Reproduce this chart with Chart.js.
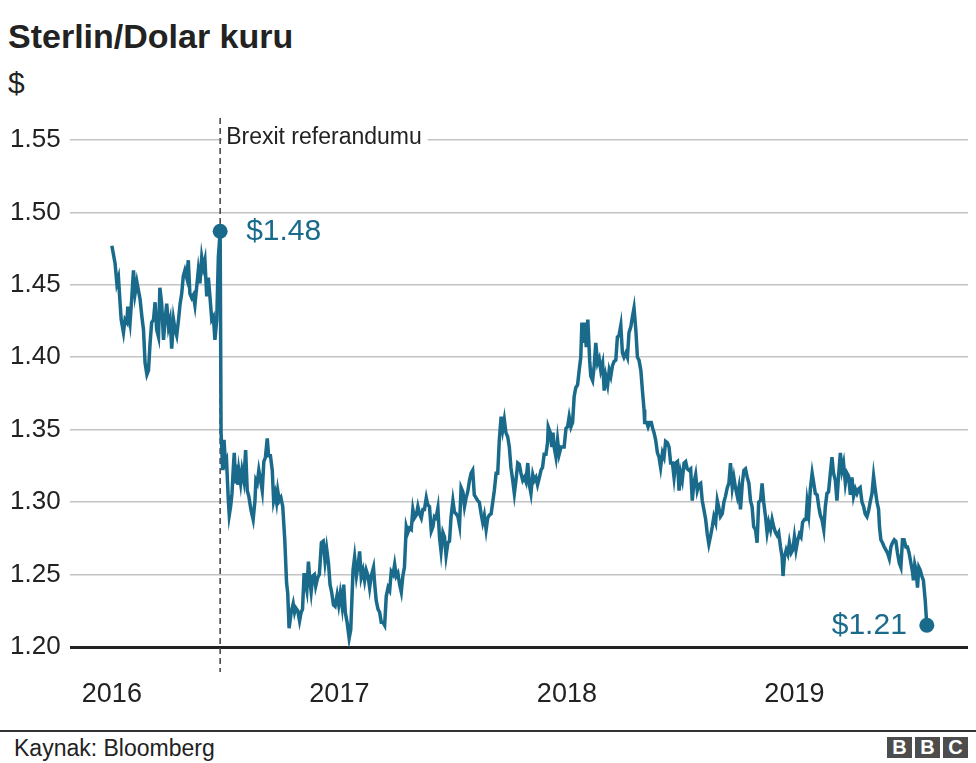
<!DOCTYPE html>
<html>
<head>
<meta charset="utf-8">
<script src="https://cdn.jsdelivr.net/npm/chart.js@4"></script>
<style>
  body { margin: 0; width: 976px; height: 763px; position: relative; overflow: hidden; background: #fff;
         font-family: 'Liberation Sans', Arial, sans-serif; color: #222; }
  #title { position: absolute; left: 8px; top: 19px; font-size: 34px; line-height: 1; font-weight: bold; }
  #unit { position: absolute; left: 8px; top: 68px; font-size: 30px; line-height: 1; }
  #wrap { position: absolute; left: 0; top: 100px; width: 976px; height: 620px; }
  #rule { position: absolute; left: 0; top: 730px; width: 976px; height: 2px; background: #333; }
  #source { position: absolute; left: 14px; top: 737px; font-size: 23px; line-height: 1; }
  #logo { position: absolute; left: 887px; top: 737px; display: flex; gap: 3px; }
  #logo span { width: 25px; height: 21px; background: #4d4d4d; color: #fff; font-weight: bold;
               font-size: 20px; line-height: 21px; text-align: center; }
</style>
</head>
<body>
<div id="title">Sterlin/Dolar kuru</div>
<div id="unit">$</div>
<div id="wrap"><canvas id="chart"></canvas></div>
<div id="rule"></div>
<div id="source">Kaynak: Bloomberg</div>
<div id="logo"><span>B</span><span>B</span><span>C</span></div>

<script>
// Tarihler (ondalik yil) ve GBP/USD kuru
const dates = [
  2016.000, 2016.014, 2016.022, 2016.029, 2016.035, 2016.041, 2016.051, 2016.058, 2016.066, 2016.070,
  2016.080, 2016.088, 2016.095, 2016.102, 2016.110, 2016.117, 2016.124, 2016.132, 2016.139, 2016.146,
  2016.154, 2016.161, 2016.168, 2016.175, 2016.183, 2016.190, 2016.197, 2016.205, 2016.211, 2016.219,
  2016.227, 2016.234, 2016.241, 2016.249, 2016.256, 2016.263, 2016.271, 2016.278, 2016.285, 2016.293,
  2016.300, 2016.307, 2016.314, 2016.321, 2016.329, 2016.336, 2016.343, 2016.351, 2016.358, 2016.365,
  2016.373, 2016.380, 2016.387, 2016.395, 2016.402, 2016.409, 2016.417, 2016.424, 2016.431, 2016.439,
  2016.446, 2016.453, 2016.461, 2016.468, 2016.476, 2016.480, 2016.487, 2016.493, 2016.499, 2016.504,
  2016.512, 2016.516, 2016.522, 2016.528, 2016.534, 2016.538, 2016.544, 2016.548, 2016.553, 2016.558,
  2016.566, 2016.572, 2016.580, 2016.588, 2016.595, 2016.602, 2016.611, 2016.621, 2016.629, 2016.633,
  2016.639, 2016.646, 2016.654, 2016.661, 2016.668, 2016.675, 2016.683, 2016.689, 2016.697, 2016.705,
  2016.711, 2016.718, 2016.724, 2016.729, 2016.736, 2016.743, 2016.751, 2016.760, 2016.768, 2016.773,
  2016.779, 2016.788, 2016.797, 2016.803, 2016.808, 2016.817, 2016.825, 2016.832, 2016.838, 2016.845,
  2016.851, 2016.857, 2016.864, 2016.870, 2016.876, 2016.883, 2016.890, 2016.896, 2016.905, 2016.912,
  2016.921, 2016.929, 2016.937, 2016.944, 2016.952, 2016.959, 2016.966, 2016.974, 2016.981, 2016.990,
  2016.997, 2017.004, 2017.012, 2017.019, 2017.026, 2017.034, 2017.043, 2017.050, 2017.060, 2017.067,
  2017.075, 2017.082, 2017.089, 2017.096, 2017.104, 2017.111, 2017.118, 2017.126, 2017.133, 2017.140,
  2017.150, 2017.155, 2017.162, 2017.170, 2017.177, 2017.184, 2017.192, 2017.199, 2017.206, 2017.214,
  2017.221, 2017.228, 2017.236, 2017.243, 2017.250, 2017.257, 2017.265, 2017.272, 2017.279, 2017.286,
  2017.294, 2017.301, 2017.308, 2017.316, 2017.323, 2017.330, 2017.338, 2017.345, 2017.352, 2017.360,
  2017.367, 2017.374, 2017.382, 2017.389, 2017.396, 2017.404, 2017.411, 2017.418, 2017.425, 2017.433,
  2017.440, 2017.447, 2017.455, 2017.462, 2017.469, 2017.477, 2017.484, 2017.491, 2017.499, 2017.506,
  2017.513, 2017.521, 2017.528, 2017.535, 2017.543, 2017.550, 2017.557, 2017.564, 2017.572, 2017.579,
  2017.586, 2017.593, 2017.601, 2017.608, 2017.615, 2017.623, 2017.630, 2017.637, 2017.645, 2017.652,
  2017.659, 2017.667, 2017.674, 2017.681, 2017.689, 2017.696, 2017.703, 2017.711, 2017.718, 2017.725,
  2017.732, 2017.740, 2017.747, 2017.754, 2017.762, 2017.769, 2017.776, 2017.784, 2017.791, 2017.798,
  2017.806, 2017.813, 2017.820, 2017.828, 2017.835, 2017.842, 2017.850, 2017.857, 2017.864, 2017.871,
  2017.879, 2017.886, 2017.893, 2017.900, 2017.908, 2017.915, 2017.918, 2017.927, 2017.934, 2017.939,
  2017.944, 2017.952, 2017.959, 2017.966, 2017.974, 2017.981, 2017.988, 2017.996, 2018.003, 2018.010,
  2018.018, 2018.025, 2018.032, 2018.039, 2018.047, 2018.054, 2018.061, 2018.066, 2018.073, 2018.079,
  2018.085, 2018.092, 2018.100, 2018.105, 2018.113, 2018.120, 2018.127, 2018.135, 2018.142, 2018.149,
  2018.157, 2018.164, 2018.171, 2018.179, 2018.186, 2018.193, 2018.200, 2018.207, 2018.215, 2018.222,
  2018.229, 2018.237, 2018.244, 2018.251, 2018.259, 2018.266, 2018.273, 2018.281, 2018.288, 2018.295,
  2018.303, 2018.310, 2018.317, 2018.325, 2018.332, 2018.339, 2018.342, 2018.351, 2018.357, 2018.364,
  2018.371, 2018.377, 2018.383, 2018.390, 2018.398, 2018.405, 2018.412, 2018.420, 2018.427, 2018.434,
  2018.442, 2018.449, 2018.456, 2018.464, 2018.471, 2018.478, 2018.486, 2018.493, 2018.500, 2018.507,
  2018.515, 2018.522, 2018.529, 2018.536, 2018.544, 2018.551, 2018.558, 2018.566, 2018.573, 2018.580,
  2018.588, 2018.595, 2018.602, 2018.610, 2018.617, 2018.624, 2018.632, 2018.639, 2018.646, 2018.654,
  2018.661, 2018.668, 2018.675, 2018.683, 2018.690, 2018.697, 2018.705, 2018.712, 2018.719, 2018.727,
  2018.734, 2018.741, 2018.749, 2018.756, 2018.763, 2018.771, 2018.778, 2018.785, 2018.793, 2018.800,
  2018.807, 2018.814, 2018.821, 2018.829, 2018.836, 2018.843, 2018.851, 2018.858, 2018.865, 2018.873,
  2018.880, 2018.887, 2018.895, 2018.902, 2018.909, 2018.917, 2018.924, 2018.931, 2018.939, 2018.946,
  2018.950, 2018.956, 2018.964, 2018.971, 2018.978, 2018.986, 2018.993, 2019.000, 2019.007, 2019.015,
  2019.022, 2019.029, 2019.036, 2019.044, 2019.051, 2019.056, 2019.063, 2019.070, 2019.078, 2019.085,
  2019.092, 2019.100, 2019.107, 2019.114, 2019.121, 2019.129, 2019.136, 2019.143, 2019.150, 2019.158,
  2019.165, 2019.172, 2019.180, 2019.187, 2019.194, 2019.202, 2019.209, 2019.216, 2019.224, 2019.231,
  2019.238, 2019.246, 2019.253, 2019.260, 2019.268, 2019.275, 2019.282, 2019.289, 2019.297, 2019.304,
  2019.311, 2019.319, 2019.326, 2019.333, 2019.341, 2019.348, 2019.355, 2019.363, 2019.370, 2019.374,
  2019.380, 2019.387, 2019.395, 2019.402, 2019.409, 2019.417, 2019.424, 2019.431, 2019.439, 2019.446,
  2019.453, 2019.461, 2019.468, 2019.475, 2019.482, 2019.490, 2019.497, 2019.504, 2019.512, 2019.519,
  2019.523, 2019.529, 2019.535, 2019.541, 2019.547, 2019.553, 2019.560, 2019.567, 2019.575, 2019.582
];

const rates = [
  1.477, 1.465, 1.451, 1.455, 1.440, 1.426, 1.417, 1.426, 1.424, 1.435,
  1.424, 1.442, 1.460, 1.444, 1.452, 1.446, 1.440, 1.428, 1.419, 1.396,
  1.388, 1.391, 1.410, 1.424, 1.426, 1.438, 1.419, 1.414, 1.448, 1.437,
  1.412, 1.426, 1.437, 1.421, 1.426, 1.406, 1.426, 1.419, 1.415, 1.426,
  1.437, 1.444, 1.456, 1.460, 1.455, 1.467, 1.444, 1.441, 1.443, 1.436,
  1.449, 1.460, 1.451, 1.469, 1.462, 1.467, 1.442, 1.455, 1.442, 1.426,
  1.428, 1.412, 1.426, 1.469, 1.487, 1.348, 1.322, 1.343, 1.327, 1.329,
  1.301, 1.291, 1.297, 1.306, 1.324, 1.334, 1.313, 1.326, 1.312, 1.322,
  1.313, 1.322, 1.315, 1.336, 1.308, 1.304, 1.295, 1.288, 1.301, 1.315,
  1.313, 1.322, 1.315, 1.308, 1.328, 1.331, 1.344, 1.332, 1.332, 1.322,
  1.301, 1.306, 1.300, 1.308, 1.301, 1.303, 1.297, 1.274, 1.244, 1.237,
  1.213, 1.224, 1.230, 1.224, 1.227, 1.225, 1.218, 1.224, 1.226, 1.251,
  1.244, 1.239, 1.259, 1.246, 1.238, 1.249, 1.250, 1.242, 1.248, 1.250,
  1.272, 1.273, 1.259, 1.268, 1.258, 1.243, 1.238, 1.229, 1.228, 1.236,
  1.229, 1.237, 1.228, 1.243, 1.224, 1.217, 1.206, 1.212, 1.253, 1.262,
  1.249, 1.256, 1.266, 1.248, 1.253, 1.246, 1.253, 1.249, 1.241, 1.249,
  1.255, 1.244, 1.232, 1.226, 1.224, 1.217, 1.217, 1.215, 1.235, 1.241,
  1.239, 1.252, 1.250, 1.257, 1.249, 1.251, 1.243, 1.238, 1.249, 1.255,
  1.283, 1.279, 1.282, 1.281, 1.295, 1.289, 1.291, 1.297, 1.292, 1.289,
  1.295, 1.295, 1.303, 1.298, 1.297, 1.280, 1.283, 1.290, 1.289, 1.296,
  1.276, 1.266, 1.279, 1.276, 1.263, 1.272, 1.273, 1.290, 1.301, 1.293,
  1.292, 1.290, 1.284, 1.310, 1.307, 1.297, 1.303, 1.307, 1.315, 1.320,
  1.322, 1.305, 1.303, 1.301, 1.300, 1.292, 1.286, 1.291, 1.281, 1.289,
  1.291, 1.292, 1.300, 1.308, 1.320, 1.320, 1.343, 1.359, 1.350, 1.357,
  1.348, 1.345, 1.338, 1.324, 1.315, 1.306, 1.315, 1.327, 1.326, 1.320,
  1.315, 1.317, 1.314, 1.327, 1.312, 1.306, 1.319, 1.315, 1.317, 1.312,
  1.317, 1.322, 1.324, 1.333, 1.333, 1.341, 1.352, 1.348, 1.338, 1.348,
  1.338, 1.331, 1.343, 1.333, 1.338, 1.338, 1.338, 1.351, 1.352, 1.359,
  1.352, 1.355, 1.373, 1.379, 1.381, 1.391, 1.400, 1.424, 1.410, 1.424,
  1.407, 1.426, 1.398, 1.387, 1.384, 1.394, 1.410, 1.396, 1.399, 1.391,
  1.396, 1.377, 1.387, 1.381, 1.391, 1.387, 1.394, 1.397, 1.398, 1.414,
  1.415, 1.422, 1.403, 1.400, 1.403, 1.400, 1.417, 1.421, 1.428, 1.434,
  1.419, 1.400, 1.398, 1.391, 1.377, 1.364, 1.355, 1.355, 1.352, 1.355,
  1.355, 1.351, 1.348, 1.343, 1.334, 1.331, 1.324, 1.334, 1.331, 1.342,
  1.341, 1.338, 1.327, 1.327, 1.317, 1.327, 1.328, 1.308, 1.320, 1.315,
  1.327, 1.328, 1.323, 1.322, 1.323, 1.301, 1.313, 1.319, 1.308, 1.312,
  1.313, 1.301, 1.295, 1.288, 1.278, 1.271, 1.277, 1.283, 1.290, 1.286,
  1.301, 1.296, 1.290, 1.292, 1.300, 1.304, 1.310, 1.313, 1.327, 1.310,
  1.317, 1.310, 1.304, 1.310, 1.295, 1.313, 1.322, 1.323, 1.317, 1.313,
  1.301, 1.297, 1.283, 1.281, 1.272, 1.300, 1.301, 1.313, 1.300, 1.290,
  1.279, 1.286, 1.281, 1.288, 1.283, 1.279, 1.277, 1.279, 1.269, 1.262,
  1.249, 1.262, 1.267, 1.264, 1.272, 1.265, 1.267, 1.276, 1.267, 1.274,
  1.278, 1.276, 1.286, 1.288, 1.288, 1.300, 1.292, 1.309, 1.320, 1.313,
  1.306, 1.305, 1.297, 1.291, 1.288, 1.281, 1.297, 1.306, 1.307, 1.320,
  1.331, 1.320, 1.315, 1.301, 1.318, 1.334, 1.322, 1.327, 1.313, 1.320,
  1.318, 1.305, 1.317, 1.304, 1.309, 1.306, 1.309, 1.310, 1.300, 1.297,
  1.292, 1.290, 1.294, 1.300, 1.306, 1.318, 1.309, 1.300, 1.295, 1.283,
  1.274, 1.272, 1.269, 1.267, 1.265, 1.261, 1.269, 1.272, 1.274, 1.273,
  1.265, 1.258, 1.255, 1.274, 1.274, 1.269, 1.269, 1.265, 1.258, 1.252,
  1.246, 1.257, 1.253, 1.241, 1.255, 1.253, 1.249, 1.246, 1.232, 1.215
];

// Eksen etiketleri
const yearTicks = [2016, 2017, 2018, 2019];
const rateTicks = [1.20, 1.25, 1.30, 1.35, 1.40, 1.45, 1.50, 1.55];

// Isaretlenen noktalar
const markDates = [2016.476, 2019.582];
const markRates = [1.487, 1.215];
const markLabels = ['$1.48', '$1.21'];

const brexitDate = 2016.476;
const brexitLabel = 'Brexit referandumu';

const lineColor = '#1a6b8b';

// Brexit cizgisi ve etiketler
const annotations = {
    id: 'annotations',
    beforeDatasetsDraw(chart) {
        const {ctx, chartArea, scales: {x, y}} = chart;
        const bx = x.getPixelForValue(brexitDate);
        ctx.save();
        ctx.strokeStyle = '#4a4a4a';
        ctx.lineWidth = 1.6;
        ctx.setLineDash([6, 4]);
        ctx.beginPath();
        ctx.moveTo(bx, chartArea.top - 22);
        ctx.lineTo(bx, chartArea.bottom + 25);
        ctx.stroke();
        ctx.setLineDash([]);

        ctx.font = '23px "Liberation Sans", Arial, sans-serif';
        const ty = y.getPixelForValue(1.55) - 2;
        const w = ctx.measureText(brexitLabel).width;
        ctx.fillStyle = '#fff';
        ctx.fillRect(bx + 2, ty - 14, w + 10, 28);
        ctx.fillStyle = '#222';
        ctx.textBaseline = 'middle';
        ctx.textAlign = 'left';
        ctx.fillText(brexitLabel, bx + 6, ty);
        ctx.restore();
    },
    afterDatasetsDraw(chart) {
        const {ctx, scales: {x, y}} = chart;
        ctx.save();
        ctx.font = '30px "Liberation Sans", Arial, sans-serif';
        ctx.fillStyle = lineColor;
        ctx.textBaseline = 'middle';
        markLabels.forEach((label, i) => {
            const px = x.getPixelForValue(markDates[i]);
            const py = y.getPixelForValue(markRates[i]);
            if (i === 0) {
                ctx.textAlign = 'left';
                ctx.fillText(label, px + 26, py);
            } else {
                ctx.textAlign = 'right';
                ctx.fillText(label, px - 20, py);
            }
        });
        ctx.restore();
    }
};

const ctx = document.getElementById('chart').getContext('2d');
new Chart(ctx, {
    type: 'line',
    data: {
        datasets: [
            {
                type: 'scatter',
                data: markDates.map((d, i) => ({x: d, y: markRates[i]})),
                backgroundColor: lineColor,
                borderWidth: 0,
                pointRadius: 7.5,
                order: 0,
                clip: false
            },
            {
                data: dates.map((d, i) => ({x: d, y: rates[i]})),
                borderColor: lineColor,
                borderWidth: 3.5,
                pointRadius: 0,
                tension: 0,
                fill: false,
                order: 1
            }
        ]
    },
    options: {
        responsive: true,
        maintainAspectRatio: false,
        animation: false,
        layout: { padding: { left: 10, right: 8, top: 40, bottom: 0 } },
        plugins: {
            legend: { display: false },
            tooltip: { enabled: false }
        },
        scales: {
            x: {
                type: 'linear',
                min: 2015.816,
                max: 2019.763,
                afterBuildTicks: scale => { scale.ticks = yearTicks.map(v => ({value: v})); },
                afterFit: scale => { scale.height = 73; },
                grid: { display: false, drawTicks: false },
                border: { display: false },
                ticks: {
                    padding: 31,
                    color: '#222',
                    font: { family: '"Liberation Sans", Arial, sans-serif', size: 27 },
                    callback: v => String(v)
                }
            },
            y: {
                min: 1.20,
                max: 1.55,
                afterBuildTicks: scale => { scale.ticks = rateTicks.map(v => ({value: v})); },
                afterFit: scale => { scale.width = 60; },
                grid: {
                    drawTicks: false,
                    color: c => (c.tick && Math.abs(c.tick.value - 1.2) < 1e-6) ? '#222' : '#c4c4c4',
                    lineWidth: c => (c.tick && Math.abs(c.tick.value - 1.2) < 1e-6) ? 3 : 1.6
                },
                border: { display: false },
                ticks: {
                    crossAlign: 'far',
                    color: '#222',
                    font: { family: '"Liberation Sans", Arial, sans-serif', size: 26 },
                    callback: v => v.toFixed(2)
                }
            }
        }
    },
    plugins: [annotations]
});
</script>
</body>
</html>
